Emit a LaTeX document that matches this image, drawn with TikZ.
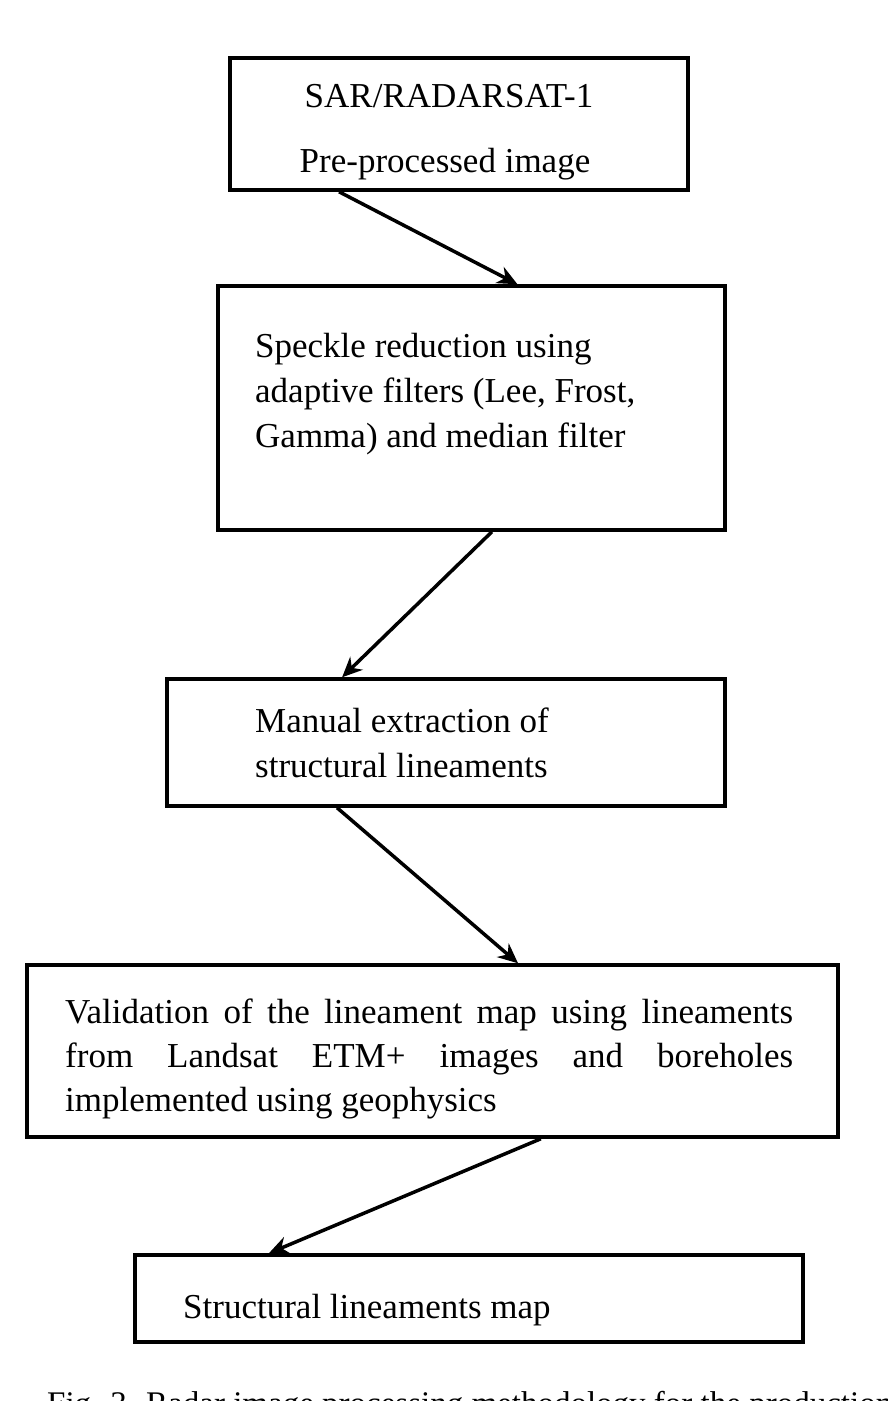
\documentclass[tikz,border=0pt]{standalone}
\usepackage{fontspec}
\setmainfont{Liberation Serif}
\usetikzlibrary{calc,arrows.meta}
\begin{document}
\begin{tikzpicture}[x=1pt,y=1pt,
  box/.style={draw,line width=3.5pt,inner sep=0pt},
  txt/.style={anchor=base west,inner sep=0pt,font=\fontsize{35}{45}\selectfont},
  arr/.style={line width=3.5pt,-{Stealth[length=20pt,width=18pt]}}]
\useasboundingbox[fill=white] (0,0) rectangle (887,-1401);
\node[box,minimum width=458,minimum height=132] (b1) at (459,-124) {};
\node[box,minimum width=507,minimum height=244] (b2) at (471.5,-408) {};
\node[box,minimum width=558,minimum height=127] (b3) at (446,-742.5) {};
\node[box,minimum width=811,minimum height=172] (b4) at (432.5,-1051) {};
\node[box,minimum width=668,minimum height=87] (b5) at (469,-1298.5) {};
\node[txt,anchor=base] (t1) at (449,-107) {SAR/RADARSAT-1};
\node[txt,anchor=base] (t2) at (445,-172) {Pre-processed image};
\node[txt,anchor=base west,align=left] (t3) at (255,-447) {Speckle reduction using\\adaptive filters (Lee, Frost,\\Gamma) and median filter};
\node[txt,anchor=base west,align=left] (t4) at (255,-777) {Manual extraction of\\structural lineaments};
\node[txt,anchor=base west] (t5) at (65,-1023) {\parbox[t]{728pt}{\fontsize{35}{44}\selectfont\parindent=0pt\tolerance=10000 Validation of the lineament map using lineaments\linebreak from Landsat ETM+ images and boreholes\linebreak implemented using geophysics\par}};
\node[txt] (t6) at (183,-1318) {Structural lineaments map};
\node[txt,font=\fontsize{33}{40}\selectfont] (cap) at (47,-1414) {Fig. 3. Radar image processing methodology for the production};
\draw[arr] ($(b1.south west)!0.24!(b1.south east)$) -- ($(b2.north west)!0.59!(b2.north east)$);
\draw[arr] ($(b2.south west)!0.54!(b2.south east)$) -- ($(b3.north west)!0.315!(b3.north east)$);
\draw[arr] ($(b3.south west)!0.306!(b3.south east)$) -- ($(b4.north west)!0.605!(b4.north east)$);
\draw[arr] ($(b4.south west)!0.633!(b4.south east)$) -- ($(b5.north west)!0.202!(b5.north east)$);
\end{tikzpicture}
\end{document}
